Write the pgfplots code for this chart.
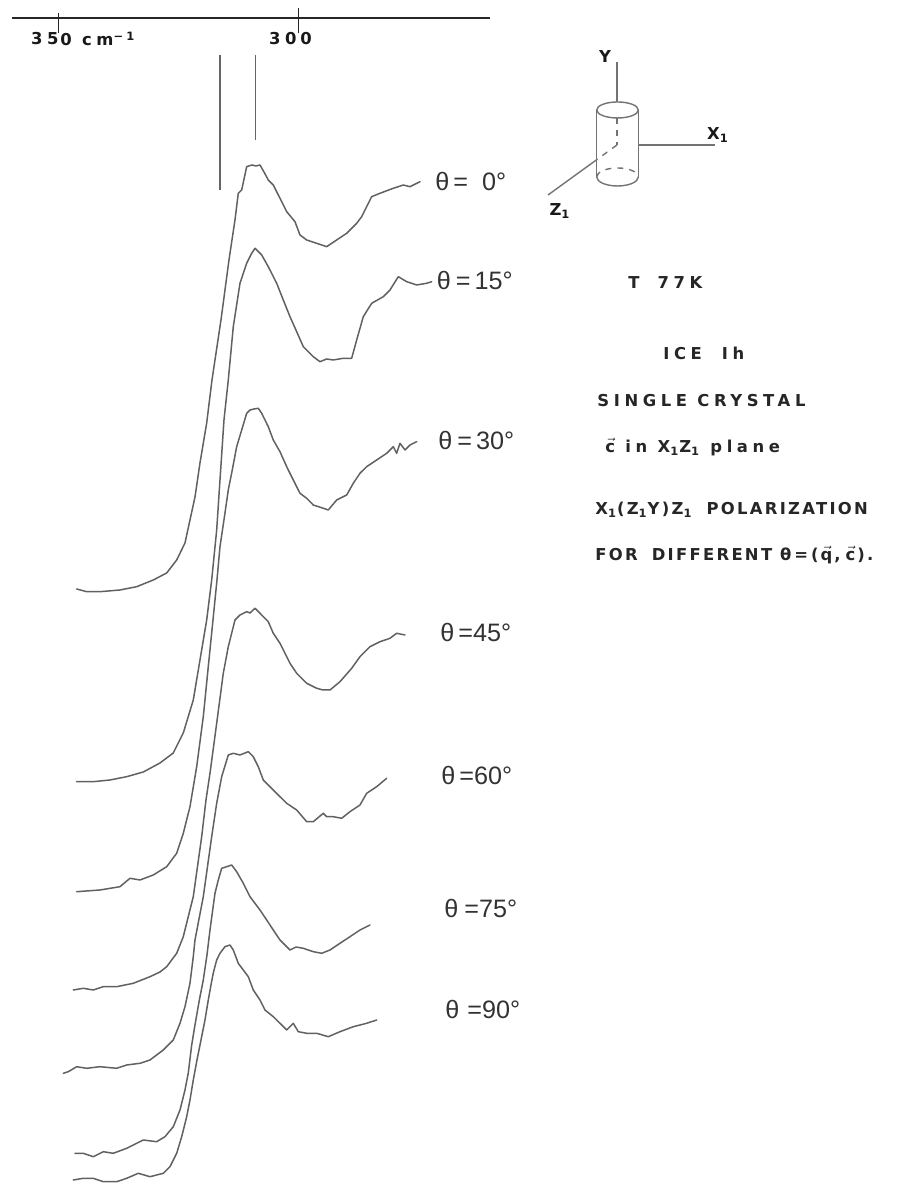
\documentclass[border=0pt]{standalone}
\usepackage{fontspec}
\setmainfont{DejaVu Sans}
\newfontfamily\lab[LetterSpace=28]{DejaVu Sans}
\newfontfamily\labn[LetterSpace=14]{DejaVu Sans}
\newfontfamily\thf{Liberation Sans}
\usepackage{pgfplots}
\usepackage{pgfplotstable}
\pgfplotsset{compat=1.18}

% traces: px = horizontal position, py = vertical position (from top)
% wavenumber = 362.15 - px/4.8 (350 cm-1 at px 58.3, 300 cm-1 at px 298.3)
\pgfplotstableread{
px py
76.7 589
86.7 591.7
100 591.7
120 590
136.7 586.7
153.3 580
166.7 573
176.7 560
185 543
190 520
195 497
200 463
206.7 423
212 380
221 320
229 260
235 220
238.3 193.3
241.7 190
246.7 166.7
252 165
256 166
260 165
264 172
268.3 180
273.3 185
280 198.3
286.7 211.7
295 221.7
300 235
306.7 240
316.7 243.3
326.7 246.7
336.7 240
346.7 233.3
356.7 223.3
361.7 216.7
371.7 196.7
380 193.3
393.3 188.3
403.3 185
410 186.7
420 181.7
}\tzero
\pgfplotstableread{
px py
76.7 781.7
93.3 781.7
110 780
126.7 776.7
143.3 772
160 763
173.3 753
183.3 733
193.3 700
200 660
206.7 620
211.7 580
216.7 530
220 480
224 420
228.3 380
233.3 326.7
240 283.3
243.3 273.3
246.7 263.3
251.7 253.3
255 248.3
261.7 255
268.3 266.7
276.7 283.3
283.3 300
290 316.7
296.7 331.7
303.3 346.7
313.3 356.7
320 361.7
326.7 359
333.3 360
343.3 358.3
351.7 358.3
356.7 340
363.3 316.7
371.7 303.3
383.3 296.7
390 290
398.3 276.7
406.7 281.7
416.7 285
426.7 283.3
431.7 281.7
}\tfifteen
\pgfplotstableread{
px py
76.7 891.7
100 890
120 886.7
130 878.3
140 880
153.3 875
166.7 866.7
176.7 853.3
183.3 833.3
190 806.7
196.7 766.7
203.3 716.7
208.3 666.7
213 620
217 580
220 546.7
225 513
228.3 490
231.7 473
236.7 446.7
241.7 430
246.7 413.3
250 410
254 409
258.3 408.3
261.7 413.3
268.3 426.7
273.3 440
280 451.7
286.7 466.7
293.3 480
300 493.3
306.7 498.3
313.3 505
323.3 508.3
328.3 510
336.7 500
346.7 495
353.3 483.3
360 473.3
366.7 466.7
376.7 460
386.7 453.3
393.3 446.7
396.7 453.3
400 443.3
405 450
410 445
416.7 441.7
}\tthirty
\pgfplotstableread{
px py
73.3 990
83.3 988.3
93.3 990
103.3 986.7
116.7 986.7
133.3 983.3
150 976.7
160 972
166.7 966.7
176.7 953.3
183.3 936.7
193.3 896.7
201.7 836.7
206 800
210 773.3
216.7 723.3
223.3 673.3
228.3 646.7
235 620
240 615
246.7 611.7
250 613
255 608.3
260 613.3
268.3 621.7
273.3 633.3
280 643.3
285 653.3
290 663.3
296.7 673.3
306.7 683.3
316.7 688.3
323 690
330 690
340 681.7
351.7 668.3
360 656.7
370 646.7
380 641.7
390 638.3
396.7 633.3
405 635
}\tfortyfive
\pgfplotstableread{
px py
63.3 1073.3
68.3 1071.7
76.7 1066.7
86.7 1068.3
100 1066.7
116.7 1068.3
126.7 1065
140 1063.3
150 1060
163.3 1050
173.3 1040
180 1023.3
185 1006.7
190 983.3
193.3 956.7
195 940
203.3 896.7
211.7 836.7
216.7 803.3
221.7 776.7
228.3 755
233.3 753.3
240 755
248.3 751.7
253.3 756.7
258.3 766.7
263.3 780
270 786.7
280 796.7
286.7 803.3
296.7 810
306.7 821.7
313.3 821.7
323.3 813.3
326.7 816.7
333.3 816.7
341.7 818.3
350 811.7
360 805
366.7 793.3
376.7 786.7
386.7 778.3
}\tsixty
\pgfplotstableread{
px py
75 1153.3
83.3 1153.3
93.3 1156.7
103.3 1151.7
113.3 1153.3
126.7 1148.3
143.3 1140
156.7 1141.7
165 1136.7
173.3 1126.7
180 1110
185 1090
188.3 1073
191.7 1045
195 1025
199 1002
203.3 980
207 955
210 930
215 893.3
218.3 880
221.7 868.3
226.7 866.7
231.7 865
236.7 871.7
243.3 883.3
250 896.7
260 910
266.7 920
273.3 930
280 940
290 950
296 947
303.3 948.3
313.3 951.7
321.7 953.3
330 950
340 943.3
350 936.7
360 930
370 925
}\tseventyfive
\pgfplotstableread{
px py
73.3 1180
83.3 1178.3
93.3 1178.3
103.3 1181.7
116.7 1181.7
126.7 1178.3
138.3 1173.3
150 1176.7
163.3 1173.3
170 1166.7
176.7 1153.3
181.7 1136.7
186.7 1116.7
190 1100
193.3 1080
197 1060
201 1040
205 1020
208.3 1000
211 985
213.3 973
216.7 960
220 953.3
225 946.7
230 945
233.3 950
238.3 963.3
243.3 970
248.3 976.7
253.3 990
260 1000
265 1010
273.3 1016.7
280 1023.3
286.7 1030
293.3 1023.3
298.3 1031.7
306.7 1033.3
316.7 1033.3
328.3 1036.7
340 1031.7
353.3 1026.7
366.7 1023.3
376.7 1020
}\tninety

\newcommand\thlab[1]{{\thf\fontsize{12.6pt}{14pt}\selectfont #1}}
\newcommand\lt{\lab\bfseries\fontsize{8.2pt}{10pt}\selectfont}
\newcommand\ltn{\labn\bfseries\fontsize{8.2pt}{10pt}\selectfont}

\begin{document}
\begin{tikzpicture}
\path[use as bounding box] (0,0) rectangle (448pt,601pt);
\begin{axis}[
  width=448pt, height=601pt, scale only axis, hide axis, clip=false,
  x dir=reverse, xmin=175.48, xmax=362.15, ymin=0, ymax=1202,
  spec/.style={black!62, line width=0.75pt, line join=round, line cap=round, mark=none},
]
\addplot[spec] table[x expr={362.15-\thisrow{px}/4.8}, y expr={1202-\thisrow{py}}] {\tzero};
\addplot[spec] table[x expr={362.15-\thisrow{px}/4.8}, y expr={1202-\thisrow{py}}] {\tfifteen};
\addplot[spec] table[x expr={362.15-\thisrow{px}/4.8}, y expr={1202-\thisrow{py}}] {\tthirty};
\addplot[spec] table[x expr={362.15-\thisrow{px}/4.8}, y expr={1202-\thisrow{py}}] {\tfortyfive};
\addplot[spec] table[x expr={362.15-\thisrow{px}/4.8}, y expr={1202-\thisrow{py}}] {\tsixty};
\addplot[spec] table[x expr={362.15-\thisrow{px}/4.8}, y expr={1202-\thisrow{py}}] {\tseventyfive};
\addplot[spec] table[x expr={362.15-\thisrow{px}/4.8}, y expr={1202-\thisrow{py}}] {\tninety};
% wavenumber scale
\draw[black!85, line width=0.8pt] (axis cs:359.7,1183.7) -- (axis cs:260.07,1183.7);
\draw[black!85, line width=0.6pt] (axis cs:350,1189) -- (axis cs:350,1169);
\draw[black!85, line width=0.6pt] (axis cs:300,1194) -- (axis cs:300,1169);
% reference lines
\draw[black!60, line width=0.75pt] (axis cs:316.3,1147) -- (axis cs:316.3,1012);
\draw[black!60, line width=0.75pt] (axis cs:308.96,1147) -- (axis cs:308.96,1062);
\end{axis}
\begin{scope}[shift={(0pt,601pt)}, x=0.5pt, y=-0.5pt]
  % scale labels
  \node[anchor=east, inner sep=0, black!90] at (59,39) {\lt 35};
  \node[anchor=west, inner sep=0, black!90] at (60,39) {\lt 0 cm\textsuperscript{−1}};
  \node[anchor=east, inner sep=0, black!90] at (297,39) {\lt 30};
  \node[anchor=west, inner sep=0, black!90] at (300,39) {\lt 0};
  % theta labels
  \begin{scope}[every node/.style={anchor=west, inner sep=0, black!80}]
  \node at (435,182) {\thlab{θ\kern2pt=\hspace{7pt}0°}};
  \node at (436.5,281) {\thlab{θ\kern2.5pt=\kern2pt15°}};
  \node at (438,441) {\thlab{θ\kern2.5pt=\kern2pt30°}};
  \node at (440,633) {\thlab{θ\kern2pt=45°}};
  \node at (441,776) {\thlab{θ\kern2pt=60°}};
  \node at (444,909) {\thlab{θ\kern3pt=75°}};
  \node at (445,1010) {\thlab{θ\kern4pt=90°}};
  \end{scope}
  % coordinate sketch
  \begin{scope}[black!55, line width=0.7pt]
    \draw (617,62) -- (617,102);
    \draw (617.5,110) ellipse [x radius=20.8, y radius=8];
    \draw (596.7,110) -- (596.7,177);
    \draw (638.3,110) -- (638.3,177);
    \draw[dashed] (617,118) -- (617,145);
    \draw (638.3,145) -- (715,145);
    \draw[dashed] (617,145) -- (597,159.5);
    \draw (597,159.5) -- (548,195);
    \draw[dashed] (596.7,177) arc[start angle=180, end angle=360, x radius=20.8, y radius=9];
    \draw (638.3,177) arc[start angle=0, end angle=180, x radius=20.8, y radius=9];
  \end{scope}
  \begin{scope}[every node/.style={inner sep=0, black!90}]
  \node at (605,57) {\lt Y};
  \node at (718,135) {\lt X\textsubscript{1}};
  \node at (560,211) {\lt Z\textsubscript{1}};
  \end{scope}
  % description text
  \begin{scope}[every node/.style={anchor=west, inner sep=0, black!85}]
  \node at (628,283) {\lt T\hspace{9pt}77K};
  \node at (663,353) {\lt ICE\hspace{10pt}Ih};
  \node at (597,401) {\lt SINGLE CRYSTAL};
  \node at (605,447) {\lt $\vec{\mbox{c}}$ in X\textsubscript{1}Z\textsubscript{1} plane\kern-2pt};
  \node at (595,510) {\ltn X\textsubscript{1}(Z\textsubscript{1}Y)Z\textsubscript{1}\hspace{3pt} POLARIZATION};
  \node at (595,555) {\ltn FOR\hspace{3pt} DIFFERENT θ\kern1.5pt=\kern1.5pt(\kern1pt$\vec{\mbox{q}}$\kern1pt,\kern2.5pt$\vec{\mbox{c}}$\kern1pt).};
  \end{scope}
\end{scope}
\end{tikzpicture}
\end{document}
